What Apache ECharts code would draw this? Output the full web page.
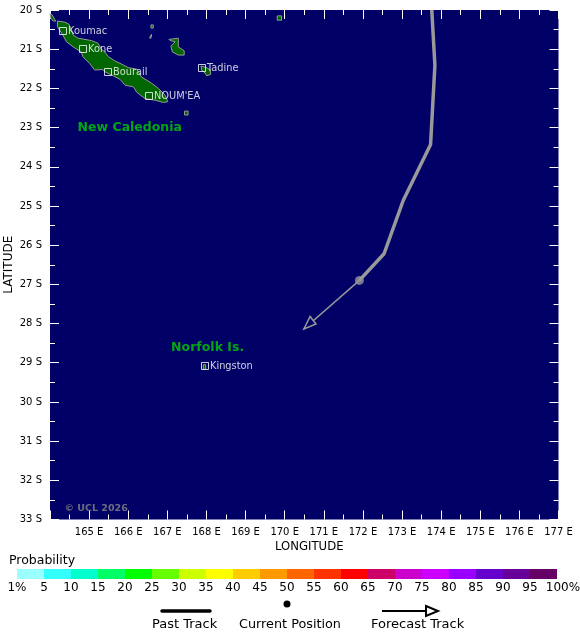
<!DOCTYPE html>
<html>
<head>
<meta charset="utf-8">
<style>
  html, body { margin: 0; padding: 0; background: #fff; }
  #root { width: 580px; height: 639px; }
</style>
<script src="https://cdn.jsdelivr.net/npm/echarts@6/dist/echarts.min.js"></script>
</head>
<body>
<div id="root"></div>
<script>
// all positions are [lon E, lat S]
const mainIsland = [
  [164.19,20.28],[164.38,20.31],[164.48,20.36],[164.54,20.47],[164.59,20.64],[164.72,20.72],
  [165.06,20.78],[165.23,20.85],[165.31,21.00],[165.40,21.07],[165.49,21.19],[165.66,21.30],
  [165.79,21.36],[166.00,21.47],[166.22,21.51],[166.34,21.71],[166.47,21.79],[166.60,21.87],
  [166.77,22.00],[166.94,22.17],[167.01,22.34],[166.90,22.36],[166.68,22.30],[166.43,22.26],
  [166.22,22.10],[166.13,21.96],[165.92,21.92],[165.79,21.77],[165.62,21.68],[165.41,21.58],
  [165.35,21.52],[165.14,21.53],[165.01,21.36],[164.84,21.19],[164.80,21.07],[164.59,20.94],
  [164.42,20.81],[164.33,20.64],[164.19,20.43]
];
const northIslet = [[164.0,20.10],[164.05,20.12],[164.12,20.24],[164.15,20.28],[164.08,20.28],[164.02,20.21]];
const lifou = [
  [167.04,20.75],[167.28,20.72],[167.28,20.94],[167.43,21.04],[167.43,21.15],[167.28,21.15],
  [167.13,21.07],[167.09,20.92],[167.20,20.81],[167.07,20.78]
];
const mare = [[167.86,21.43],[167.98,21.46],[168.09,21.52],[168.11,21.64],[168.01,21.68],[167.94,21.58],[167.88,21.55]];
const walpole = [[167.44,22.58],[167.53,22.58],[167.53,22.68],[167.44,22.68]];
const hunter = [[169.81,20.15],[169.92,20.15],[169.92,20.26],[169.81,20.26]];
const reefA = [[166.58,20.38],[166.64,20.38],[166.64,20.46],[166.58,20.46]];
const reefB = [[166.60,20.62],[166.58,20.72],[166.55,20.72],[166.57,20.65]];
const norfolk = [[167.92,29.05],[167.98,29.05],[167.98,29.17],[167.92,29.17]];
const landShapes = [mainIsland, northIslet, lifou, mare, walpole, hunter, reefA, reefB, norfolk];

const cityNames = ["Koumac", "Kone", "Bourail", "NOUM'EA", "Tadine", "Kingston"];
const cityLon = [164.332, 164.844, 165.483, 166.531, 167.886, 167.963];
const cityLat = [20.536, 20.995, 21.582, 22.194, 21.480, 29.083];

const regionNames = ["New Caledonia", "Norfolk Is."];
const regionLon = [166.04, 168.03];
const regionLat = [23.01, 28.61];

const copyrightText = "\u00a9 UCL 2026";
const copyrightPos = [165.18, 32.73];

const pastTrack = [[173.76,20.0],[173.84,21.41],[173.73,23.43],[173.03,24.86],[172.54,26.22],[171.91,26.90]];
const currentPosition = [171.91, 26.90];
const forecastTrack = [[171.91,26.90],[170.49,28.14]];
const forecastHead = [[170.49,28.14],[170.65,27.82],[170.80,28.01]];

const probabilityLabels = ["1%","5","10","15","20","25","30","35","40","45","50","55","60","65","70","75","80","85","90","95","100%"];
const probabilityColors = [
  "#99ffff","#33ffff","#00ffcc","#00ff66","#00ff00","#66ff00","#ccff00","#ffff00","#ffcc00","#ff9900",
  "#ff6600","#ff3300","#ff0000","#cc0066","#cc00cc","#cc00ff","#9900ff","#6600cc","#660099","#660066"
];

const NAVY = "#000066";
const GREY = "#999999";
const FONT = "DejaVu Sans";

const myChart = echarts.init(document.getElementById("root"), null, { renderer: "canvas" });

const tickStyle = {
  axisLine: { show: false },
  splitLine: { show: false },
  axisTick: { show: true, inside: true, length: 9, lineStyle: { color: "#fff", width: 1 } },
  minorTick: { show: true, splitNumber: 2, length: 5, lineStyle: { color: "#fff", width: 1 } },
};

const lonAxis = (position, showLabel) => ({
  type: "value", gridIndex: 0, position, min: 164, max: 177, interval: 1,
  ...tickStyle,
  axisLabel: {
    show: showLabel, margin: 8, fontFamily: FONT, fontSize: 10, color: "#000",
    showMinLabel: false,
    formatter: (v) => v + " E",
  },
  name: showLabel ? "LONGITUDE" : "",
  nameLocation: "middle", nameGap: 21, nameMoveOverlap: false,
  nameTextStyle: { fontFamily: FONT, fontSize: 11.7, color: "#000", padding: [0, 0, 0, 10] },
});

const latAxis = (position, showLabel) => ({
  type: "value", gridIndex: 0, position, min: 20, max: 33, interval: 1, inverse: true,
  ...tickStyle,
  axisLabel: {
    show: showLabel, margin: 8, fontFamily: FONT, fontSize: 10, color: "#000",
    formatter: (v) => v + " S",
  },
  name: showLabel ? "LATITUDE" : "",
  nameLocation: "middle", nameGap: 35, nameRotate: 90, nameMoveOverlap: false,
  nameTextStyle: { fontFamily: FONT, fontSize: 12, color: "#000" },
});

const polygonItem = (points, style) => (params, api) => ({
  type: "polygon",
  shape: { points: points.map((p) => api.coord(p)) },
  style,
});

const option = {
  animation: false,
  backgroundColor: "#fff",
  grid: [
    { left: 50, top: 10, width: 508.5, height: 509.5, show: true, backgroundColor: NAVY, borderWidth: 0, outerBoundsMode: "none" },
    { left: 17, top: 569, width: 540, height: 10, show: false, outerBoundsMode: "none" },
  ],
  xAxis: [
    lonAxis("bottom", true),
    lonAxis("top", false),
    {
      type: "value", gridIndex: 1, position: "bottom", min: 0, max: 20, interval: 1,
      axisLine: { show: false }, axisTick: { show: false }, splitLine: { show: false },
      axisLabel: {
        margin: 3, fontFamily: FONT, fontSize: 12, color: "#000", hideOverlap: false,
        showMinLabel: true, showMaxLabel: true,
        formatter: (v) => (v === 20 ? "{last|" + probabilityLabels[v] + "}" : probabilityLabels[v]),
        rich: { last: { fontFamily: FONT, fontSize: 12, color: "#000", padding: [0, 0, 0, 12] } },
      },
    },
  ],
  yAxis: [
    latAxis("left", true),
    latAxis("right", false),
    { type: "value", gridIndex: 1, min: 0, max: 1, show: false },
  ],
  series: [
    {
      type: "custom", xAxisIndex: 0, yAxisIndex: 0, coordinateSystem: "cartesian2d", silent: true, z: 2,
      data: landShapes.map((s, i) => [s[0][0], s[0][1], i]),
      renderItem: (params, api) => ({
        type: "polygon",
        shape: { points: landShapes[params.dataIndex].map((p) => api.coord(p)) },
        style: { fill: "#006600", stroke: "#999999", lineWidth: 1 },
      }),
    },
    {
      type: "line", xAxisIndex: 0, yAxisIndex: 0, data: pastTrack, showSymbol: false, silent: true, z: 3,
      lineStyle: { color: GREY, width: 3.5, join: "round" },
    },
    {
      type: "line", xAxisIndex: 0, yAxisIndex: 0, data: forecastTrack, showSymbol: false, silent: true, z: 3,
      lineStyle: { color: GREY, width: 1.5 },
    },
    {
      type: "custom", xAxisIndex: 0, yAxisIndex: 0, silent: true, z: 4,
      data: [forecastHead[0]],
      renderItem: polygonItem(forecastHead, { fill: NAVY, stroke: GREY, lineWidth: 1.5 }),
    },
    {
      type: "scatter", xAxisIndex: 0, yAxisIndex: 0, data: [currentPosition], symbol: "circle", symbolSize: 9,
      itemStyle: { color: GREY }, silent: true, z: 5,
    },
    {
      type: "scatter", xAxisIndex: 0, yAxisIndex: 0, symbol: "rect", symbolSize: 7, silent: true, z: 6,
      data: cityNames.map((name, i) => ({ name, value: [cityLon[i], cityLat[i]] })),
      itemStyle: { color: "rgba(0,0,0,0)", borderColor: "#fff", borderWidth: 1 },
      label: {
        show: true, position: "right", distance: 1, formatter: "{b}",
        fontFamily: FONT, fontSize: 9.8, color: "#fff",
      },
    },
    {
      type: "scatter", xAxisIndex: 0, yAxisIndex: 0, symbolSize: 0, silent: true, z: 6,
      data: regionNames.map((name, i) => ({ name, value: [regionLon[i], regionLat[i]] })),
      label: {
        show: true, position: "inside", formatter: "{b}",
        fontFamily: FONT, fontSize: 12.5, fontWeight: "bold", color: "#00d000",
      },
    },
    {
      type: "scatter", xAxisIndex: 0, yAxisIndex: 0, symbolSize: 0, silent: true, z: 6,
      data: [{ name: copyrightText, value: copyrightPos }],
      label: {
        show: true, position: "inside", formatter: "{b}",
        fontFamily: FONT, fontSize: 9.5, fontWeight: "bold", color: "#888888",
      },
    },
    {
      type: "custom", xAxisIndex: 2, yAxisIndex: 2, silent: true, z: 2,
      data: probabilityColors.map((c, i) => [i, i + 1]),
      renderItem: (params, api) => {
        const a = api.coord([api.value(0), 1]);
        const b = api.coord([api.value(1), 0]);
        return {
          type: "rect",
          shape: { x: a[0], y: a[1], width: b[0] - a[0], height: b[1] - a[1] },
          style: { fill: probabilityColors[params.dataIndex] },
        };
      },
      encode: { x: [0, 1] },
    },
  ],
  graphic: [
    { type: "text", left: 9, top: 554, style: { text: "Probability", fontFamily: FONT, fontSize: 12.5, fill: "#000" } },
    { type: "line", shape: { x1: 162, y1: 611, x2: 210, y2: 611 }, style: { stroke: "#000", lineWidth: 3.5, lineCap: "round" } },
    { type: "text", left: 152, top: 618, style: { text: "Past Track", fontFamily: FONT, fontSize: 13, fill: "#000" } },
    { type: "circle", shape: { cx: 287, cy: 604, r: 3.5 }, style: { fill: "#000" } },
    { type: "text", left: 239, top: 618, style: { text: "Current Position", fontFamily: FONT, fontSize: 12.8, fill: "#000" } },
    { type: "line", shape: { x1: 382, y1: 611, x2: 426, y2: 611 }, style: { stroke: "#000", lineWidth: 1.8 } },
    { type: "polygon", shape: { points: [[426, 606], [438, 611], [426, 616]] }, style: { fill: "#fff", stroke: "#000", lineWidth: 2 } },
    { type: "text", left: 371, top: 618, style: { text: "Forecast Track", fontFamily: FONT, fontSize: 13, fill: "#000" } },
  ],
};

myChart.setOption(option);
</script>
</body>
</html>
